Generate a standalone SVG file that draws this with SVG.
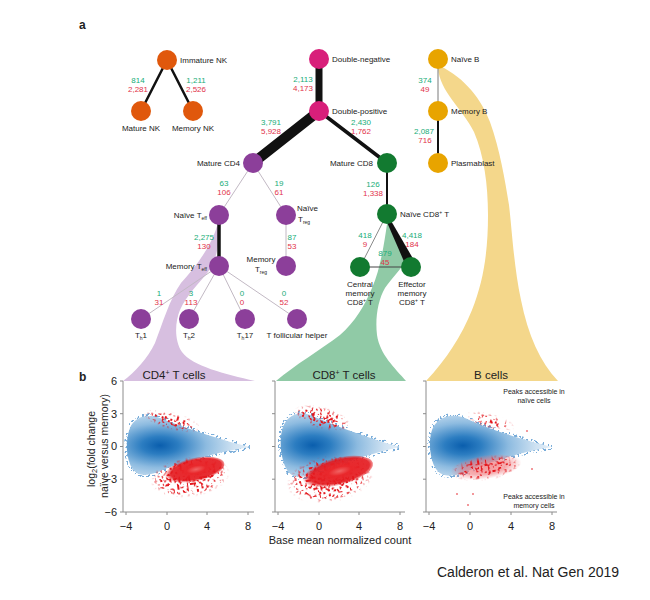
<svg xmlns="http://www.w3.org/2000/svg" width="650" height="600" viewBox="0 0 650 600">
<style>
text{font-family:"Liberation Sans",Arial,sans-serif;fill:#222}
.lbl{font-size:8px}
.num{font-size:8px;text-anchor:middle}
.g{fill:#17ad78}
.r{fill:#e2334a}
.mid{text-anchor:middle}
.end{text-anchor:end}
.tick{font-size:11px;text-anchor:middle}
.ytick{font-size:11px;text-anchor:end}
.axis{stroke:#8c8c8c;stroke-width:1;fill:none}
.edge{stroke:#111;fill:none;stroke-linecap:round}
.thin{stroke:#c2b9c4;stroke-width:1;fill:none}
.nk{fill:#e0580c}
.dp{fill:#d81f7a}
.cd4{fill:#8c3f9a}
.cd8{fill:#127a30}
.bc{fill:#e8a400}
.hdr{font-size:11.5px;text-anchor:middle}
.small{font-size:7px;text-anchor:middle}
</style>
<defs>
<radialGradient id="blueG" cx="0.27" cy="0.5" r="0.75">
<stop offset="0" stop-color="#0a5ead"/>
<stop offset="0.2" stop-color="#2c7dc1"/>
<stop offset="0.5" stop-color="#8dbbe0"/>
<stop offset="0.8" stop-color="#cfe2f2"/>
<stop offset="1" stop-color="#e8f1f9"/>
</radialGradient>
<radialGradient id="fade" cx="0.5" cy="0.5" r="0.5">
<stop offset="0" stop-color="#fff" stop-opacity="1"/>
<stop offset="0.5" stop-color="#fff" stop-opacity="0.6"/>
<stop offset="1" stop-color="#fff" stop-opacity="0"/>
</radialGradient>
<radialGradient id="core" cx="0.55" cy="0.5" r="0.5">
<stop offset="0" stop-color="#f06464"/>
<stop offset="0.3" stop-color="#e9282c"/>
<stop offset="0.8" stop-color="#e3171c" stop-opacity="0.9"/>
<stop offset="1" stop-color="#e3171c" stop-opacity="0"/>
</radialGradient>
<radialGradient id="coreB" cx="0.5" cy="0.5" r="0.5">
<stop offset="0" stop-color="#f49a9c"/>
<stop offset="0.6" stop-color="#f07a7e" stop-opacity="0.6"/>
<stop offset="1" stop-color="#f07a7e" stop-opacity="0"/>
</radialGradient>
<filter id="spkR" x="-20%" y="-20%" width="140%" height="140%" color-interpolation-filters="sRGB">
<feTurbulence type="fractalNoise" baseFrequency="0.42" numOctaves="1" seed="4" result="n"/>
<feColorMatrix in="n" type="matrix" values="0 0 0 0 0  0 0 0 0 0  0 0 0 0 0  5 0 0 0 -2" result="na"/>
<feComposite in="na" in2="SourceAlpha" operator="arithmetic" k1="0" k2="8" k3="3.5" k4="-8.4" result="m"/>
<feFlood flood-color="#e3161c"/>
<feComposite in2="m" operator="in"/>
</filter>
<filter id="spkB" x="-20%" y="-20%" width="140%" height="140%" color-interpolation-filters="sRGB">
<feTurbulence type="fractalNoise" baseFrequency="0.45" numOctaves="1" seed="9" result="n"/>
<feColorMatrix in="n" type="matrix" values="0 0 0 0 0  0 0 0 0 0  0 0 0 0 0  5 0 0 0 -2" result="na"/>
<feComposite in="na" in2="SourceAlpha" operator="arithmetic" k1="0" k2="8" k3="3.5" k4="-8.4" result="m"/>
<feFlood flood-color="#78acd9"/>
<feComposite in2="m" operator="in"/>
</filter>
</defs>
<rect width="650" height="600" fill="#fff"/>

<!-- ribbons -->
<g id="ribbons">
<path id="ribbon-cd4" fill="#d7bfe0" d="M 217,226 C 212,245 195,268 181,283 C 170,298 162,325 155,343 C 148,358 135,372 123,381 L 255,381 C 225,374 192,366 182,352 C 174,340 175,322 180,310 C 186,296 200,282 208,272 C 215,262 219,250 219,228 Z"/>
<path id="ribbon-cd8" fill="#90caa6" d="M 387,224 C 384,245 380,270 372,288 C 365,305 355,322 340,335 C 320,350 295,365 276,381 L 406,381 C 395,368 380,355 377,335 C 375,318 378,300 385,288 C 392,278 402,268 408,258 C 400,245 393,232 389,224 Z"/>
<path id="ribbon-b" fill="#f4d78b" d="M 438,68 C 440,92 462,108 474,132 C 484,155 488,185 488,215 C 488,250 484,280 472,310 C 462,335 446,360 426,381 L 558,381 C 540,362 528,335 521,300 C 514,268 512,230 509,205 C 505,180 500,150 490,122 C 482,100 465,78 440,66 Z"/>
</g>

<!-- connectors -->
<g id="connectors">
<line class="edge" x1="167" y1="60" x2="141" y2="111" stroke-width="2.5"/>
<line class="edge" x1="167" y1="60" x2="193" y2="111" stroke-width="2.5"/>
<line class="edge" x1="319" y1="59" x2="319" y2="111" stroke-width="7"/>
<line class="edge" x1="319" y1="111" x2="253" y2="163" stroke-width="10"/>
<line class="edge" x1="319" y1="111" x2="387" y2="163" stroke-width="3.5"/>
<line x1="438" y1="59" x2="438" y2="111" stroke="#7a7a7a" stroke-width="1"/>
<line class="edge" x1="438" y1="111" x2="438" y2="163" stroke-width="2"/>
<line class="thin" x1="253" y1="163" x2="219" y2="215"/>
<line class="thin" x1="253" y1="163" x2="286" y2="215"/>
<line class="edge" x1="219" y1="215" x2="219" y2="266" stroke-width="3.5"/>
<line class="thin" x1="286" y1="215" x2="286" y2="266"/>
<line class="thin" x1="219" y1="266" x2="141" y2="319"/>
<line class="thin" x1="219" y1="266" x2="189" y2="319"/>
<line class="thin" x1="219" y1="266" x2="245" y2="319"/>
<line class="thin" x1="219" y1="266" x2="297" y2="319"/>
<line class="edge" x1="387" y1="163" x2="387" y2="214" stroke-width="2"/>
<line x1="387" y1="214" x2="360" y2="267" stroke="#8a8a8a" stroke-width="1"/>
<polygon points="386,220 390,219 415,262 406,266" fill="#111"/>
<line x1="360" y1="267" x2="411" y2="267" stroke="#444" stroke-width="1"/>
</g>

<text x="79" y="29" font-size="12" font-weight="bold">a</text>

<!-- NK -->
<g id="immature-nk"><circle class="nk" cx="167" cy="60" r="10"/><text class="lbl" x="180" y="63">Immature NK</text></g>
<g id="mature-nk"><circle class="nk" cx="141" cy="111" r="10"/><text class="lbl mid" x="141" y="131">Mature NK</text></g>
<g id="memory-nk"><circle class="nk" cx="193" cy="111" r="10"/><text class="lbl mid" x="193" y="131">Memory NK</text></g>
<g id="nk-nums">
<text class="num g" x="138" y="83">814</text><text class="num r" x="138" y="92">2,281</text>
<text class="num g" x="196" y="83">1,211</text><text class="num r" x="196" y="92">2,526</text>
</g>

<!-- T lineage -->
<g id="double-negative"><circle class="dp" cx="319" cy="59" r="10"/><text class="lbl" x="332" y="62">Double-negative</text></g>
<g id="double-positive"><circle class="dp" cx="319" cy="111" r="10"/><text class="lbl" x="332" y="114">Double-positive</text></g>
<g id="mature-cd4"><circle class="cd4" cx="253" cy="163" r="10"/><text class="lbl end" x="240" y="166">Mature CD4</text></g>
<g id="mature-cd8"><circle class="cd8" cx="387" cy="163" r="10"/><text class="lbl end" x="373" y="166">Mature CD8</text></g>
<g id="t-nums">
<text class="num g" x="303" y="82">2,113</text><text class="num r" x="303" y="91">4,173</text>
<text class="num g" x="271" y="125">3,791</text><text class="num r" x="271" y="134">5,928</text>
<text class="num g" x="361" y="125">2,430</text><text class="num r" x="361" y="134">1,762</text>
</g>

<!-- B -->
<g id="naive-b"><circle class="bc" cx="438" cy="59" r="10"/><text class="lbl" x="451" y="62">Naïve B</text></g>
<g id="memory-b"><circle class="bc" cx="438" cy="111" r="10"/><text class="lbl" x="451" y="114">Memory B</text></g>
<g id="plasmablast"><circle class="bc" cx="438" cy="163" r="10"/><text class="lbl" x="451" y="166">Plasmablast</text></g>
<g id="b-nums">
<text class="num g" x="425" y="83">374</text><text class="num r" x="425" y="92">49</text>
<text class="num g" x="424" y="134">2,087</text><text class="num r" x="425" y="143">716</text>
</g>

<!-- CD4 subtree -->
<g id="naive-teff"><circle class="cd4" cx="219" cy="215" r="10"/><text class="lbl end" x="207" y="218">Naïve T<tspan font-size="5" dy="1.5">eff</tspan></text></g>
<g id="naive-treg"><circle class="cd4" cx="286" cy="215" r="10"/><text class="lbl" x="297" y="211">Naïve</text><text class="lbl" x="298" y="222">T<tspan font-size="5" dy="1.5">reg</tspan></text></g>
<g id="memory-teff"><circle class="cd4" cx="219" cy="266" r="10"/><text class="lbl end" x="207" y="269">Memory T<tspan font-size="5" dy="1.5">eff</tspan></text></g>
<g id="memory-treg"><circle class="cd4" cx="286" cy="266" r="10"/><text class="lbl mid" x="261" y="262">Memory</text><text class="lbl mid" x="261" y="272">T<tspan font-size="5" dy="1.5">reg</tspan></text></g>
<g id="th1"><circle class="cd4" cx="141" cy="319" r="10"/><text class="lbl mid" x="141" y="338">T<tspan font-size="5" dy="1.5">h</tspan><tspan dy="-1.5">1</tspan></text></g>
<g id="th2"><circle class="cd4" cx="189" cy="319" r="10"/><text class="lbl mid" x="189" y="338">T<tspan font-size="5" dy="1.5">h</tspan><tspan dy="-1.5">2</tspan></text></g>
<g id="th17"><circle class="cd4" cx="245" cy="319" r="10"/><text class="lbl mid" x="245" y="338">T<tspan font-size="5" dy="1.5">h</tspan><tspan dy="-1.5">17</tspan></text></g>
<g id="tfh"><circle class="cd4" cx="297" cy="319" r="10"/><text class="lbl mid" x="297" y="338">T follicular helper</text></g>
<g id="cd4-nums">
<text class="num g" x="224" y="186">63</text><text class="num r" x="224" y="195">106</text>
<text class="num g" x="279" y="186">19</text><text class="num r" x="279" y="195">61</text>
<text class="num g" x="204" y="240">2,275</text><text class="num r" x="204" y="249">130</text>
<text class="num g" x="292" y="240">87</text><text class="num r" x="292" y="249">53</text>
<text class="num g" x="159" y="296">1</text><text class="num r" x="159" y="305">31</text>
<text class="num g" x="191" y="296">3</text><text class="num r" x="191" y="305">113</text>
<text class="num g" x="242" y="296">0</text><text class="num r" x="242" y="305">0</text>
<text class="num g" x="284" y="296">0</text><text class="num r" x="284" y="305">52</text>
</g>

<!-- CD8 subtree -->
<g id="naive-cd8"><circle class="cd8" cx="387" cy="214" r="10"/><text class="lbl" x="400" y="217">Naïve CD8<tspan font-size="5" dy="-3">+</tspan><tspan dy="3"> T</tspan></text></g>
<g id="central-memory"><circle class="cd8" cx="360" cy="267" r="10"/><text class="lbl mid" x="360" y="287">Central</text><text class="lbl mid" x="360" y="296">memory</text><text class="lbl mid" x="360" y="305">CD8<tspan font-size="5" dy="-3">+</tspan><tspan dy="3"> T</tspan></text></g>
<g id="effector-memory"><circle class="cd8" cx="411" cy="267" r="10"/><text class="lbl mid" x="412" y="287">Effector</text><text class="lbl mid" x="412" y="296">memory</text><text class="lbl mid" x="412" y="305">CD8<tspan font-size="5" dy="-3">+</tspan><tspan dy="3"> T</tspan></text></g>
<g id="cd8-nums">
<text class="num g" x="373" y="187">126</text><text class="num r" x="373" y="196">1,338</text>
<text class="num g" x="365" y="238">418</text><text class="num r" x="365" y="247">9</text>
<text class="num g" x="412" y="238">4,418</text><text class="num r" x="412" y="247">184</text>
<text class="num g" x="385" y="256">879</text><text class="num r" x="385" y="265">45</text>
</g>

<!-- panel b -->
<text x="79" y="381" font-size="12" font-weight="bold">b</text>
<text class="hdr" x="174" y="379">CD4<tspan font-size="7" dy="-4">+</tspan><tspan dy="4"> T cells</tspan></text>
<text class="hdr" x="344" y="379">CD8<tspan font-size="7" dy="-4">+</tspan><tspan dy="4"> T cells</tspan></text>
<text class="hdr" x="491" y="379">B cells</text>

<!-- CD4 plot -->
<g id="plot-cd4">
<path d="M 250,447 C 225,441 190,430 160,418 C 145,413 134,418 130,428 C 125,440 126,458 132,468 C 138,478 150,476 165,469 C 195,458 225,451 250,447 Z" fill="none" stroke="#000" stroke-width="5" stroke-opacity="0.7" filter="url(#spkB)"/>
<path d="M 250,447 C 225,441 190,430 160,418 C 145,413 134,418 130,428 C 125,440 126,458 132,468 C 138,478 150,476 165,469 C 195,458 225,451 250,447 Z" fill="url(#blueG)"/>
<ellipse cx="172" cy="421" rx="34" ry="10" transform="rotate(15 172 421)" fill="url(#fade)" fill-opacity="0.7" filter="url(#spkR)"/>
<ellipse cx="190" cy="477" rx="44" ry="22" transform="rotate(-8 190 477)" fill="url(#fade)" filter="url(#spkR)"/>
<ellipse cx="193" cy="470" rx="32" ry="12" transform="rotate(-12 193 470)" fill="url(#core)"/>
<path class="axis" d="M123,381 V512 H254 M120,381 H123 M120,413.7 H123 M120,446.5 H123 M120,479.2 H123 M120,512 H123 M126,512 V515 M167,512 V515 M207,512 V515 M248,512 V515"/>
<text class="ytick" x="117" y="385">6</text>
<text class="ytick" x="117" y="418">3</text>
<text class="ytick" x="117" y="450">0</text>
<text class="ytick" x="117" y="483">−3</text>
<text class="ytick" x="117" y="516">−6</text>
<text class="tick" x="126" y="530">−4</text><text class="tick" x="167" y="530">0</text><text class="tick" x="207" y="530">4</text><text class="tick" x="248" y="530">8</text>
</g>
<text font-size="10.5" text-anchor="middle" transform="translate(95,449) rotate(-90)">log<tspan font-size="7.5" dy="2">2</tspan><tspan dy="-2">(fold change</tspan></text>
<text font-size="10.5" text-anchor="middle" transform="translate(108,446) rotate(-90)">naïve versus memory)</text>

<!-- CD8 plot -->
<g id="plot-cd8">
<path d="M 400,447 C 375,440 340,428 310,415 C 295,410 285,418 282,430 C 279,442 281,460 287,470 C 293,480 305,478 318,471 C 350,460 378,452 400,447 Z" fill="none" stroke="#000" stroke-width="5" stroke-opacity="0.7" filter="url(#spkB)"/>
<path d="M 400,447 C 375,440 340,428 310,415 C 295,410 285,418 282,430 C 279,442 281,460 287,470 C 293,480 305,478 318,471 C 350,460 378,452 400,447 Z" fill="url(#blueG)"/>
<ellipse cx="322" cy="418" rx="32" ry="12" transform="rotate(15 322 418)" fill="url(#fade)" fill-opacity="0.9" filter="url(#spkR)"/>
<ellipse cx="330" cy="479" rx="48" ry="26" transform="rotate(-10 330 479)" fill="url(#fade)" filter="url(#spkR)"/>
<ellipse cx="336" cy="472" rx="38" ry="14" transform="rotate(-14 336 472)" fill="url(#core)"/>
<path class="axis" d="M275,381 V512 H405 M272,381 H275 M272,413.7 H275 M272,446.5 H275 M272,479.2 H275 M272,512 H275 M278,512 V515 M319,512 V515 M359,512 V515 M400,512 V515"/>
<text class="tick" x="278" y="530">−4</text><text class="tick" x="319" y="530">0</text><text class="tick" x="359" y="530">4</text><text class="tick" x="400" y="530">8</text>
</g>
<text font-size="11" text-anchor="middle" x="340" y="544">Base mean normalized count</text>

<!-- B plot -->
<g id="plot-b">
<path d="M 552,447 C 528,441 495,432 465,418 C 450,412 436,418 432,430 C 428,442 430,460 436,469 C 442,478 455,477 468,471 C 500,458 528,451 552,447 Z" fill="none" stroke="#000" stroke-width="5" stroke-opacity="0.7" filter="url(#spkB)"/>
<path d="M 552,447 C 528,441 495,432 465,418 C 450,412 436,418 432,430 C 428,442 430,460 436,469 C 442,478 455,477 468,471 C 500,458 528,451 552,447 Z" fill="url(#blueG)"/>
<ellipse cx="490" cy="421" rx="32" ry="9" transform="rotate(15 490 421)" fill="url(#fade)" fill-opacity="0.5" filter="url(#spkR)"/>
<ellipse cx="486" cy="467" rx="36" ry="12" transform="rotate(-8 486 467)" fill="url(#coreB)"/>
<ellipse cx="486" cy="468" rx="40" ry="14" transform="rotate(-8 486 468)" fill="url(#fade)" fill-opacity="0.75" filter="url(#spkR)"/>
<circle cx="457" cy="494" r="0.8" fill="#e3161c"/><circle cx="473" cy="494" r="0.8" fill="#e3161c"/><circle cx="468" cy="505" r="0.8" fill="#e3161c"/><circle cx="532" cy="469" r="0.8" fill="#e3161c"/><circle cx="527" cy="431" r="0.8" fill="#e3161c"/>
<path class="axis" d="M426,381 V512 H557 M423,381 H426 M423,413.7 H426 M423,446.5 H426 M423,479.2 H426 M423,512 H426 M429,512 V515 M470,512 V515 M511,512 V515 M552,512 V515"/>
<text class="tick" x="429" y="530">−4</text><text class="tick" x="470" y="530">0</text><text class="tick" x="511" y="530">4</text><text class="tick" x="552" y="530">8</text>
<text class="small" x="534" y="394">Peaks accessible in</text>
<text class="small" x="534" y="403">naïve cells</text>
<text class="small" x="534" y="499">Peaks accessible in</text>
<text class="small" x="534" y="508">memory cells</text>
</g>

<text x="437" y="577" font-size="14" fill="#222">Calderon et al. Nat Gen 2019</text>
</svg>
